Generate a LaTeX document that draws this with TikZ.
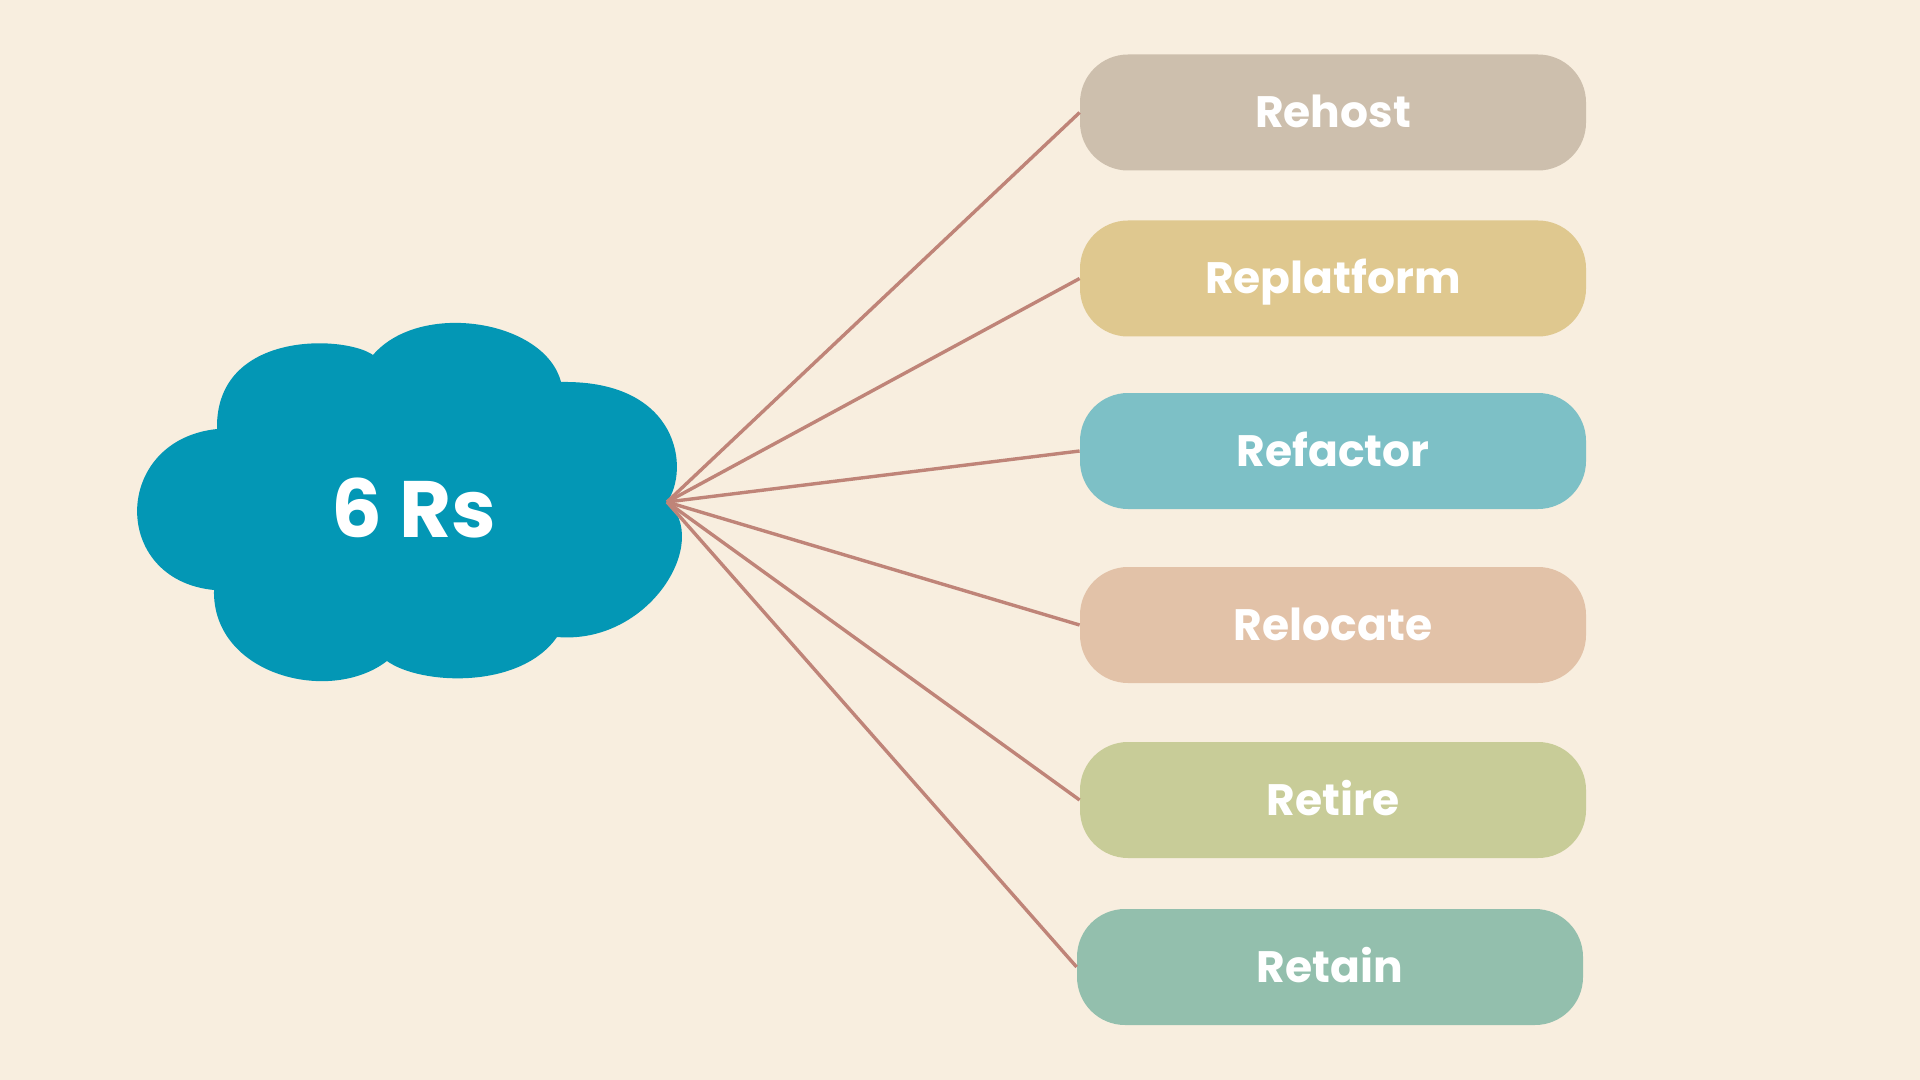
\documentclass[tikz,border=0pt]{standalone}
\usepackage{fontspec}
\setmainfont{Poppins}
\definecolor{bgcream}{HTML}{F8EEDF}
\definecolor{cloudblue}{HTML}{0397B5}
\definecolor{linkred}{HTML}{BF8478}
\definecolor{rehostc}{HTML}{CDBFAD}
\definecolor{replatc}{HTML}{DFC88F}
\definecolor{refactc}{HTML}{7DC0C6}
\definecolor{relocc}{HTML}{E2C2A8}
\definecolor{retirec}{HTML}{C8CC98}
\definecolor{retainc}{HTML}{93BFAD}
\tikzset{
  rbox/.style={rounded corners=24pt, minimum width=253pt, minimum height=58pt,
    inner sep=0pt, text=white, text height=15.5pt, text depth=0pt,
    font=\fontsize{22}{22}\selectfont\bfseries},
  link/.style={draw=linkred, line width=1.7pt}
}
\begin{document}
\begin{tikzpicture}[x=0.5pt,y=-0.5pt]
      \fill[bgcream] (0,0) rectangle (1920,1080);
      \useasboundingbox (0,0) rectangle (1920,1080);
      % cloud
      \fill[cloudblue] (217,429)
        .. controls (112,440) and (110,580) .. (214,590)
        .. controls (212,675) and (330,705) .. (387,661)
        .. controls (420,685) and (520,690) .. (557,637)
        .. controls (650,645) and (712,540) .. (667,502)
        .. controls (690,470) and (680,380) .. (561,382)
        .. controls (545,320) and (420,300) .. (373,355)
        .. controls (345,335) and (215,330) .. cycle;
      \node[text=white, font=\fontsize{40}{40}\selectfont\bfseries] (cloud) at (414,508) {6 Rs};
      \coordinate (hub) at (667,502);
      \path
        (1333,112.5) node[rbox, fill=rehostc] (rehost){Rehost}
        (1333,278.5) node[rbox, fill=replatc] (replatform){Replatform}
        (1333,451) node[rbox, fill=refactc] (refactor){Refactor}
        (1333,625) node[rbox, fill=relocc] (relocate){Relocate}
        (1333,800) node[rbox, fill=retirec] (retire){Retire}
        (1330,967) node[rbox, fill=retainc] (retain){Retain};
      \begin{scope}[link]
        \draw (hub) to (rehost.west);
        \draw (hub) to (replatform.west);
        \draw (hub) to (refactor.west);
        \draw (hub) to (relocate.west);
        \draw (hub) to (retire.west);
        \draw (hub) to (retain.west);
      \end{scope}
    \end{tikzpicture}
\end{document}
